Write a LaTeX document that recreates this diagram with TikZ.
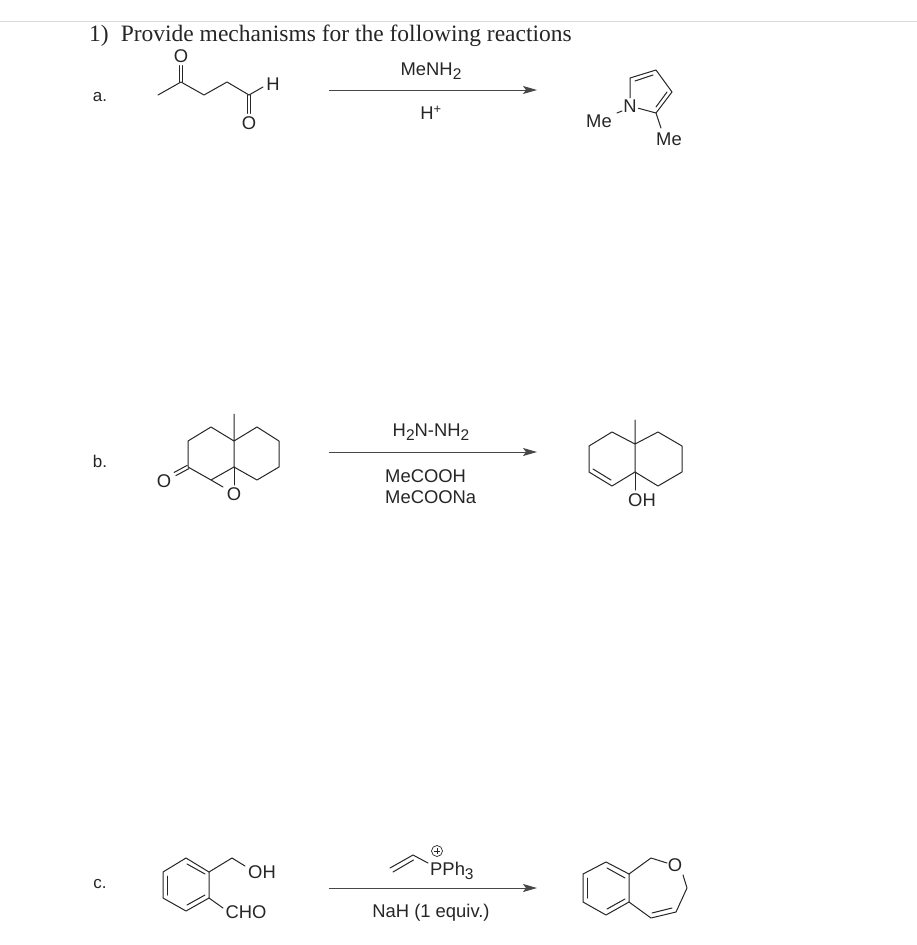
\documentclass[tikz,border=0pt]{standalone}
\usepackage{fontspec}
\setmainfont{Liberation Sans}
\newfontfamily\titlefont{Liberation Serif}
\usetikzlibrary{arrows.meta,calc}
\definecolor{ink}{HTML}{262626}
\newcommand{\lowtwo}[1]{\raisebox{-3.5pt}{\fontsize{15.5}{16}\selectfont #1}}
\tikzset{
  bond/.style={draw=ink,line width=1pt,line join=round,line cap=round},
  lab/.style={text=ink,font=\fontsize{18.4}{20}\selectfont,inner sep=1.5pt},
  rxn/.style={draw=ink!85,line width=1pt,-{Stealth[length=14pt,width=8pt,inset=3pt]}},
  tag/.style={text=ink,font=\fontsize{17}{18}\selectfont,inner sep=0pt},
}
\begin{document}
\begin{tikzpicture}[x=1pt,y=-1pt]
\useasboundingbox (0,0) rectangle (917,945);
\fill[white] (0,0) rectangle (917,945);
\coordinate (ruleL) at (0,21); \coordinate (ruleR) at (917,21);
\draw[black!15,line width=1pt] (ruleL) -- (ruleR);
\node[anchor=base west,inner sep=0pt,text=ink,font=\titlefont\fontsize{23.5}{26}\selectfont] (title) at (89,41) {1)\hspace{12pt}Provide mechanisms for the following reactions};
\node[tag] (tagA) at (100,97) {a.};
\node[tag] (tagB) at (100,461) {b.};
\node[tag] (tagC) at (100,884) {c.};

% --- reaction a
\foreach \n/\x/\y in {a1/158/95,a2/181/82,a3/204/95,a4/227/82,a5/249/95}{\coordinate (\n) at (\x,\y);}
\node[lab,inner sep=3pt] (aO1) at (181,56) {O};
\node[lab,inner sep=3pt] (aO2) at (249,123) {O};
\node[lab] (aH) at (273,84) {H};
\draw[bond] (a1) -- (a2) -- (a3) -- (a4) -- (a5);
\coordinate (aHb) at (263,87);
\draw[bond] (a5) -- (aHb);
\draw[bond] ($(a2)+(-1.8,0)$) -- ($(aO1.south)+(-1.8,0)$);
\draw[bond] ($(a2)+(1.8,0)$) -- ($(aO1.south)+(1.8,0)$);
\draw[bond] ($(a5)+(-1.8,0)$) -- ($(aO2.north)+(-1.8,0)$);
\draw[bond] ($(a5)+(1.8,0)$) -- ($(aO2.north)+(1.8,0)$);
\coordinate (arrAs) at (329,90); \coordinate (arrAe) at (537,90);
\draw[rxn] (arrAs) -- (arrAe);
\node[lab] (rA1) at (431,71) {MeNH\lowtwo{2}};
\node[lab] (rA2) at (431,113) {H\textsuperscript{+}};
% pyrrole
\node[lab,inner sep=1.5pt] (pN) at (630,106) {N};
\coordinate (p1) at (630,78); \coordinate (p2) at (656,70);
\coordinate (p3) at (672,92); \coordinate (p4) at (656,113);
\coordinate (p5) at (635,81); \coordinate (p6) at (653,75);
\coordinate (p7) at (656,107); \coordinate (p8) at (667,92);
\coordinate (p9) at (661,128); \coordinate (p10) at (617,113); \coordinate (p11) at (622,111);
\node[lab] (pMe1) at (599,121) {Me};
\node[lab] (pMe2) at (669,139) {Me};
\draw[bond] (pN) -- (p1) -- (p2) -- (p3) -- (p4) -- (pN);
\draw[bond] (p5) -- (p6);
\draw[bond] (p7) -- (p8);
\draw[bond] (p4) -- (p9);
\draw[bond] (p10) -- (p11);

% --- reaction b
\foreach \n/\x/\y in {b1/234/441,bM/234/414,b2/257/427,b3/279/441,b4/279/467,b5/257/480,b6/234/467,b7/211/480,b8/188/467,b9/188/441,b10/211/427,b11/223/487,b12/234/485,b13/175/474}{\coordinate (\n) at (\x,\y);}
\node[lab] (bO1) at (164,481) {O};
\node[lab] (bO2) at (234,494) {O};
\draw[bond] (bM) -- (b1) -- (b2) -- (b3) -- (b4) -- (b5) -- (b6) -- (b1) -- (b10) -- (b9) -- (b8) -- (b7) -- (b6);
\draw[bond] (b7) -- (b11);
\draw[bond] (b6) -- (b12);
\draw[bond] ($(b8)+(-0.9,-1.6)$) -- ($(b13)+(-0.9,-1.6)$);
\draw[bond] ($(b8)+(0.9,1.6)$) -- ($(b13)+(0.9,1.6)$);
\coordinate (arrBs) at (329,452); \coordinate (arrBe) at (537,452);
\draw[rxn] (arrBs) -- (arrBe);
\node[lab] (rB1) at (431,432) {H\lowtwo{2}N-NH\lowtwo{2}};
\node[lab,anchor=west,inner sep=0pt] (rB2) at (385,476) {MeCOOH};
\node[lab,anchor=west,inner sep=0pt] (rB3) at (385,497) {MeCOONa};
% product b
\foreach \n/\x/\y in {q1/635/444,qM/635/420,q2/658/432,q3/682/446,q4/682/472,q5/658/486,q6/635/472,q7/612/486,q8/589/472,q9/589/446,q10/612/432,q11/593/469,q12/611/480}{\coordinate (\n) at (\x,\y);}
\node[lab] (qOH) at (642,500) {OH};
\draw[bond] (qM) -- (q1) -- (q2) -- (q3) -- (q4) -- (q5) -- (q6) -- (q1) -- (q10) -- (q9) -- (q8) -- (q7) -- (q6);
\draw[bond] (q11) -- (q12);
\coordinate (q13) at (635,490);
\draw[bond] (q6) -- (q13);

% --- reaction c
\foreach \n/\x/\y in {c1/163/872,c2/186/858,c3/209/872,c4/209/898,c5/186/911,c6/163/898,c7/232/858,c8/167.5/876,c9/167.5/895,c10/187/864,c11/205/874,c12/187/905,c13/205/895,c14/223/908,c15/245/866}{\coordinate (\n) at (\x,\y);}
\node[lab] (cOH) at (262,872) {OH};
\node[lab] (cCHO) at (246,912) {CHO};
\draw[bond] (c1) -- (c2) -- (c3) -- (c4) -- (c5) -- (c6) -- (c1);
\draw[bond] (c8) -- (c9);
\draw[bond] (c10) -- (c11);
\draw[bond] (c12) -- (c13);
\draw[bond] (c3) -- (c7) -- (c15);
\draw[bond] (c4) -- (c14);
\coordinate (arrCs) at (329,888); \coordinate (arrCe) at (537,888);
\draw[rxn] (arrCs) -- (arrCe);
\foreach \n/\x/\y in {v1/390/868,v2/413/855,v3/393/872,v4/413.5/860,v5/428/863}{\coordinate (\n) at (\x,\y);}
\draw[bond] (v1) -- (v2) -- (v5);
\draw[bond] (v3) -- (v4);
\node[lab,anchor=west,inner sep=0pt] (rC1) at (430,871) {PPh\lowtwo{3}};
\node[draw=ink,circle,line width=0.7pt,minimum size=11pt,inner sep=0pt] (rCp) at (437,851) {};
\coordinate (rCa) at (434,851); \coordinate (rCb) at (440,851);
\coordinate (rCc) at (437,848); \coordinate (rCd) at (437,854);
\draw[draw=ink,line width=0.7pt] (rCa) -- (rCb);
\draw[draw=ink,line width=0.7pt] (rCc) -- (rCd);
\node[lab] (rC2) at (431,913) {NaH (1 equiv.)};
% product c
\foreach \n/\x/\y in {d1/583/874,d2/606/862,d3/629/874,d4/629/902,d5/606/915,d6/583/902,d7/651/858,d8/687/888,d9/676/912,d10/651/918,d11/587.5/878,d12/587.5/898,d13/607/868,d14/625/878,d15/607/909,d16/625/899,d17/652/913,d18/672/908,d19/667/863,d20/683/875}{\coordinate (\n) at (\x,\y);}
\node[lab,inner sep=1pt] (dO) at (675,865) {O};
\draw[bond] (d1) -- (d2) -- (d3) -- (d4) -- (d5) -- (d6) -- (d1);
\draw[bond] (d11) -- (d12);
\draw[bond] (d13) -- (d14);
\draw[bond] (d15) -- (d16);
\draw[bond] (d3) -- (d7) -- (d19);
\draw[bond] (d20) -- (d8) -- (d9) -- (d10) -- (d4);
\draw[bond] (d17) -- (d18);
\end{tikzpicture}
\end{document}
